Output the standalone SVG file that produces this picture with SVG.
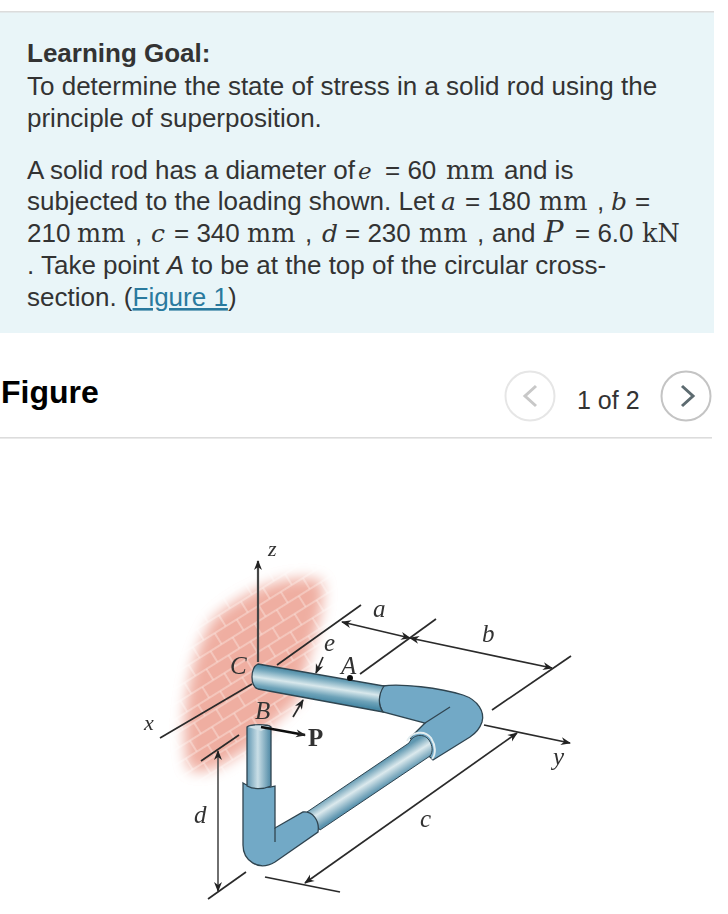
<svg xmlns="http://www.w3.org/2000/svg" width="728" height="914" viewBox="0 0 728 914">
<defs>
<linearGradient id="rodH" gradientUnits="userSpaceOnUse" x1="322" y1="673" x2="318" y2="700"><stop offset="0" stop-color="#3f7f9b"/><stop offset=".2" stop-color="#6ea3b9"/><stop offset=".5" stop-color="#d8e8ec"/><stop offset=".8" stop-color="#6ea3b9"/><stop offset="1" stop-color="#4a8aa6"/></linearGradient>
<linearGradient id="rodV" x1="0" x2="1" y1="0" y2="0"><stop offset="0" stop-color="#6197b2"/><stop offset=".45" stop-color="#c9dee6"/><stop offset="1" stop-color="#4d88a4"/></linearGradient>
<linearGradient id="rodD" gradientUnits="userSpaceOnUse" x1="361" y1="775" x2="373" y2="794"><stop offset="0" stop-color="#5f97b0"/><stop offset=".45" stop-color="#dbe9ed"/><stop offset="1" stop-color="#5a93ae"/></linearGradient>
<filter id="blur" x="-30%" y="-30%" width="160%" height="160%"><feGaussianBlur stdDeviation="7"/></filter>
<filter id="soft" x="-5%" y="-5%" width="110%" height="110%"><feGaussianBlur stdDeviation=".55"/></filter>
<marker id="ah" viewBox="0 0 10 10" refX="9" refY="5" markerWidth="12" markerHeight="10" orient="auto-start-reverse" markerUnits="userSpaceOnUse"><path d="M0 1L10 5L0 9L3 5Z" fill="#222"/></marker>
<pattern id="brick" width="26" height="26" patternUnits="userSpaceOnUse" patternTransform="rotate(-32 250 650)"><rect width="26" height="26" fill="#efaea1"/><path d="M0 6H26M0 19H26M8 6V19M21 19V26M21 0V6" stroke="#f9dfd8" stroke-width="1" fill="none"/></pattern>
<mask id="wallMask" maskUnits="userSpaceOnUse" x="140" y="530" width="230" height="280"><path d="M188 768C178 720 190 652 214 618C240 594 288 570 322 581C328 610 308 650 298 700L248 748C225 765 202 778 188 768Z" fill="#fff" filter="url(#blur)"/></mask>
</defs>
<style>
text{font-family:"Liberation Sans",Arial,sans-serif;fill:#333}
.t{font-size:26px}
.m{font-family:"DejaVu Serif","Liberation Serif",serif;font-size:25.5px}
.i{font-family:"DejaVu Serif","Liberation Serif",serif;font-style:italic;font-size:25px}
.l{font-family:"Liberation Serif",serif;font-style:italic;font-size:25px}
.s{font-family:"Liberation Serif",serif;font-style:italic;font-size:22px}
.ln{stroke:#2a2a2a;stroke-width:1.7;fill:none}
.ol{stroke:#2f4450;stroke-width:1.3}
</style>
<rect width="728" height="914" fill="#fff"/>
<g id="goal">
<rect x="0" y="12" width="714" height="321" fill="#e9f5f8"/>
<rect x="0" y="11" width="714" height="1.5" fill="#dcdcdc"/>
<text x="27" y="62" class="t" style="font-weight:700">Learning Goal:</text>
<text x="27" y="95" class="t">To determine the state of stress in a solid rod using the</text>
<text x="27" y="127" class="t">principle of superposition.</text>
<text y="179" class="t"><tspan x="27" textLength="328" lengthAdjust="spacing">A solid rod has a diameter of</tspan><tspan x="358" class="i" style="font-size:23px">e</tspan><tspan x="385">= 60</tspan><tspan x="446" class="m">mm</tspan><tspan x="504">and is</tspan></text>
<text y="210" class="t"><tspan x="27">subjected to the loading shown. Let</tspan><tspan x="441" class="i">a</tspan><tspan x="465">= 180</tspan><tspan x="539" class="m">mm</tspan><tspan x="597">,</tspan><tspan x="611" class="i">b</tspan><tspan x="635">=</tspan></text>
<text y="242" class="t"><tspan x="27">210</tspan><tspan x="77" class="m">mm</tspan><tspan x="135">,</tspan><tspan x="151" class="i">c</tspan><tspan x="174">= 340</tspan><tspan x="247" class="m">mm</tspan><tspan x="305">,</tspan><tspan x="322" class="i">d</tspan><tspan x="345">= 230</tspan><tspan x="419" class="m">mm</tspan><tspan x="477">,</tspan><tspan x="492">and</tspan><tspan x="544" class="i" style="font-size:29px">P</tspan><tspan x="575">= 6.0</tspan><tspan x="642" class="m">kN</tspan></text>
<text x="27" y="274" class="t">. Take point <tspan font-style="italic">A</tspan> to be at the top of the circular cross-</text>
<text x="27" y="306" class="t">section. (<tspan style="fill:#2a7a9e" text-decoration="underline">Figure 1</tspan>)</text>
</g>
<g id="figure-bar">
<text x="1" y="403" font-size="32" style="font-weight:700;fill:#000">Figure</text>
<circle cx="530" cy="396" r="24.5" fill="#fff" stroke="#e6e6e6" stroke-width="2"/>
<path d="M536 386L525 396L536 406" fill="none" stroke="#c8c8c8" stroke-width="3"/>
<text x="577" y="409" font-size="25">1 of 2</text>
<circle cx="686" cy="396" r="24.5" fill="#fff" stroke="#c4c4c4" stroke-width="2"/>
<path d="M682 386L693 396L682 406" fill="none" stroke="#5d6b70" stroke-width="3"/>
<rect x="0" y="437" width="712" height="1.6" fill="#dcdcdc"/>
</g>
<g filter="url(#soft)">
<g id="wall">
<rect x="140" y="530" width="230" height="280" fill="url(#brick)" mask="url(#wallMask)"/>
</g>
<g id="connectors">
<path class="ln" style="stroke-width:2.2;stroke:#444" d="M258 662V561" marker-end="url(#ah)"/>
<path class="ln" d="M160 738L252 684"/>
<path class="ln" d="M277 665L361 605"/>
<path class="ln" d="M342 622L410 638" marker-start="url(#ah)" marker-end="url(#ah)"/>
<path class="ln" d="M410 638L552 668" marker-start="url(#ah)" marker-end="url(#ah)"/>
<path class="ln" d="M360 674L436 619"/>
<path class="ln" d="M492 710L571 656"/>
<path class="ln" d="M484 725L570 743" marker-end="url(#ah)"/>
<path class="ln" d="M305 883L517 733" marker-start="url(#ah)" marker-end="url(#ah)"/>
<path class="ln" d="M265 877L340 892"/>
<path class="ln" d="M201 761L239 735"/>
<path class="ln" d="M208 899L246 872"/>
<path class="ln" style="stroke:#555" d="M218 751V891" marker-start="url(#ah)" marker-end="url(#ah)"/>
<path class="ln" d="M323 657L316 673" marker-end="url(#ah)"/>
<path class="ln" d="M293 717L303 700" marker-end="url(#ah)"/>
</g>
<g id="elbow-right">
<path class="ol" d="M383 686C400 683 440 688 463 695C478 700 485 712 482 722C480 728 476 733 470 737L433 760L410 738L425 723L383 712C378 705 378 695 383 686Z" fill="#72a9c6"/>
<path d="M425 723L450 707" stroke="#2f4450" stroke-width="1.3"/>
</g>
<g id="rod-lower">
<path d="M409 743C413 734 424 733 429 740C433 746 433 752 430 756L320 830L307 812Z" fill="url(#rodD)" stroke="#2f4450" stroke-width="1"/>
<path d="M407 741C412 731 425 730 431 738C436 746 436 754 432 759" fill="none" stroke="#e2edf0" stroke-width="2"/>
</g>
<g id="rod-upper">
<path class="ol" d="M258 664L384 686C378 695 378 705 383 712L258 689C250 686 250 668 258 664Z" fill="url(#rodH)"/>
</g>
<g id="elbow-lower">
<path class="ol" d="M243 783C250 788 268 788 275 786V828L303 812C312 811 320 820 318 832L275 862C258 872 243 860 243 845Z" fill="#72a9c6"/>
<path d="M275 828V842" stroke="#2f4450" stroke-width="1.3"/>
</g>
<g id="rod-vertical">
<path class="ol" d="M247 727C250 724 268 724 271 727V786C262 790 252 789 247 786Z" fill="url(#rodV)"/>
<path d="M248 727C252 725 266 725 270 727L261 731Z" fill="#cfdfe6"/>
<path class="ln" style="stroke-width:2.6;stroke:#111" d="M261 727L305 735" marker-end="url(#ah)"/>
<circle cx="350" cy="678" r="3" fill="#111"/>
</g>
<g id="labels">
<text x="268" y="556" class="s">z</text>
<text x="144" y="730" class="s">x</text>
<text x="373" y="617" class="l">a</text>
<text x="482" y="642" class="l">b</text>
<text x="553" y="765" class="l">y</text>
<text x="324" y="651" class="l">e</text>
<text x="341" y="674" class="l">A</text>
<text x="230" y="674" class="l">C</text>
<text x="255" y="719" class="l">B</text>
<text x="308" y="746" style="font-family:'Liberation Serif',serif;font-weight:700" font-size="25">P</text>
<text x="194" y="823" class="l">d</text>
<text x="420" y="827" class="l">c</text>
</g>
</g>
</svg>
